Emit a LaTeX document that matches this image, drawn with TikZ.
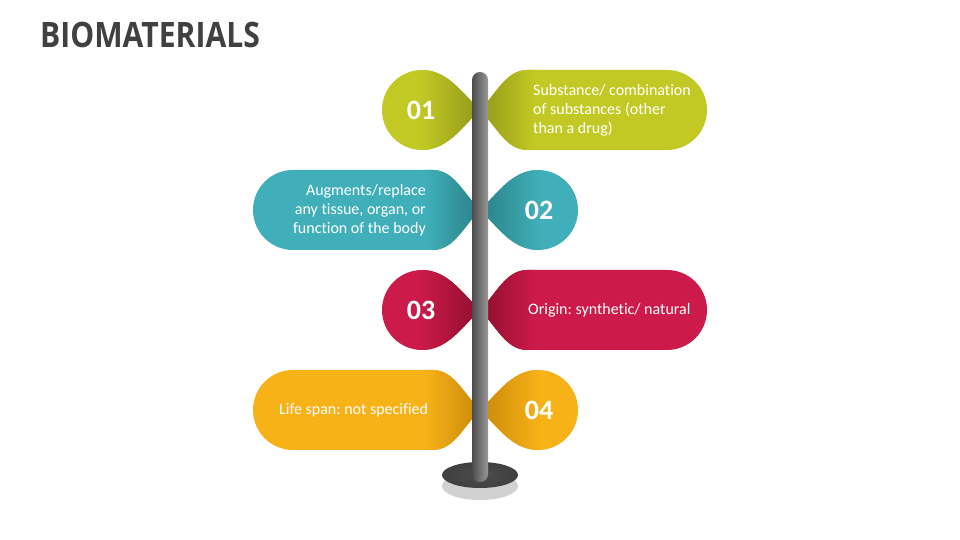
\documentclass[tikz,border=0pt]{standalone}
\usepackage{fontspec}
\setmainfont[Ligatures=NoCommon]{Carlito}
\newfontfamily\titlefont{Open Sans}
\frenchspacing
\usetikzlibrary{calc}
\definecolor{limeA}{RGB}{194,201,36}
\definecolor{limeB}{RGB}{146,152,24}
\definecolor{tealA}{RGB}{64,175,185}
\definecolor{tealB}{RGB}{42,128,134}
\definecolor{redA}{RGB}{204,26,74}
\definecolor{redB}{RGB}{142,14,46}
\definecolor{ambA}{RGB}{247,178,24}
\definecolor{ambB}{RGB}{200,136,8}
\definecolor{titlegray}{RGB}{64,64,64}
\tikzset{
  numtxt/.style={text=white,font=\fontsize{28}{30}\selectfont\bfseries,inner sep=0pt},
  bodytxt/.style={text=white,font=\fontsize{16}{19}\selectfont\frenchspacing,inner sep=0pt},
}
% left teardrop (round end left, point at pole)
\newcommand\lteardrop[1]{(480,#1) .. controls (463,#1+16) and (448,#1+40) .. (422,#1+40)
  arc[start angle=90,end angle=270,radius=40]
  .. controls (448,#1-40) and (463,#1-16) .. (480,#1) -- cycle}
\newcommand\rteardrop[1]{(480,#1) .. controls (497,#1+16) and (512,#1+40) .. (538,#1+40)
  arc[start angle=90,end angle=-90,radius=40]
  .. controls (512,#1-40) and (497,#1-16) .. (480,#1) -- cycle}
\newcommand\rpill[1]{(480,#1) .. controls (496,#1+16) and (506,#1+40) .. (527,#1+40)
  -- (667,#1+40) arc[start angle=90,end angle=-90,radius=40]
  -- (527,#1-40) .. controls (506,#1-40) and (496,#1-16) .. (480,#1) -- cycle}
\newcommand\lpill[1]{(480,#1) .. controls (464,#1+16) and (454,#1+40) .. (433,#1+40)
  -- (293,#1+40) arc[start angle=90,end angle=270,radius=40]
  -- (433,#1-40) .. controls (454,#1-40) and (464,#1-16) .. (480,#1) -- cycle}
\begin{document}
\begin{tikzpicture}[x=1pt,y=1pt]
\useasboundingbox (0,0) rectangle (960,540);
\fill[white] (0,0) rectangle (960,540);
% title
\node[anchor=west,inner sep=0pt,text=titlegray] (title) at (40,505)
  {\scalebox{0.86}[1]{\titlefont\fontsize{35}{40}\selectfont\bfseries BIOMATERIALS}};

% base shadow and base
\fill[gray!45,opacity=0.8] (480,54) ellipse[x radius=38,y radius=14];
\shade[inner color=gray!60!black,outer color=black!75] (480,65) ellipse[x radius=38,y radius=13];

% ---- row 1 ----
\fill[limeA] \lteardrop{430};
\begin{scope}\clip \lteardrop{430};
  \shade[left color=limeA,right color=limeB] (420,380) rectangle (481,480);
\end{scope}
\fill[limeA] \rpill{430};
\begin{scope}\clip \rpill{430};
  \shade[left color=limeB,right color=limeA] (479,380) rectangle (535,480);
\end{scope}
% ---- row 2 ----
\fill[tealA] \lpill{330};
\begin{scope}\clip \lpill{330};
  \shade[left color=tealA,right color=tealB] (425,280) rectangle (481,380);
\end{scope}
\fill[tealA] \rteardrop{330};
\begin{scope}\clip \rteardrop{330};
  \shade[left color=tealB,right color=tealA] (479,280) rectangle (540,380);
\end{scope}
% ---- row 3 ----
\fill[redA] \lteardrop{230};
\begin{scope}\clip \lteardrop{230};
  \shade[left color=redA,right color=redB] (420,180) rectangle (481,280);
\end{scope}
\fill[redA] \rpill{230};
\begin{scope}\clip \rpill{230};
  \shade[left color=redB,right color=redA] (479,180) rectangle (535,280);
\end{scope}
% ---- row 4 ----
\fill[ambA] \lpill{130};
\begin{scope}\clip \lpill{130};
  \shade[left color=ambA,right color=ambB] (425,80) rectangle (481,180);
\end{scope}
\fill[ambA] \rteardrop{130};
\begin{scope}\clip \rteardrop{130};
  \shade[left color=ambB,right color=ambA] (479,80) rectangle (540,180);
\end{scope}

% pole
\shade[left color=black!70,right color=black!40]
  (472,66) -- (472,460) arc[start angle=180,end angle=0,radius=8]
  -- (488,66) arc[start angle=0,end angle=-180,radius=8] -- cycle;

% texts
\node[numtxt] (n1) at (421,430) {01};
\node[numtxt] (n2) at (539,330) {02};
\node[numtxt] (n3) at (421,230) {03};
\node[numtxt] (n4) at (539,130) {04};
\node[bodytxt,anchor=west,align=left] (t1) at (533,430)
  {Substance/ combination\\of substances (other\\than a drug)};
\node[bodytxt,anchor=east,align=right] (t2) at (426,330)
  {Augments/replace\\any tissue, organ, or\\function of the body};
\node[bodytxt,anchor=west] (t3) at (528,230) {Origin: synthetic/ natural};
\node[bodytxt,anchor=west] (t4) at (279,130) {Life span: not specified};
\end{tikzpicture}
\end{document}
